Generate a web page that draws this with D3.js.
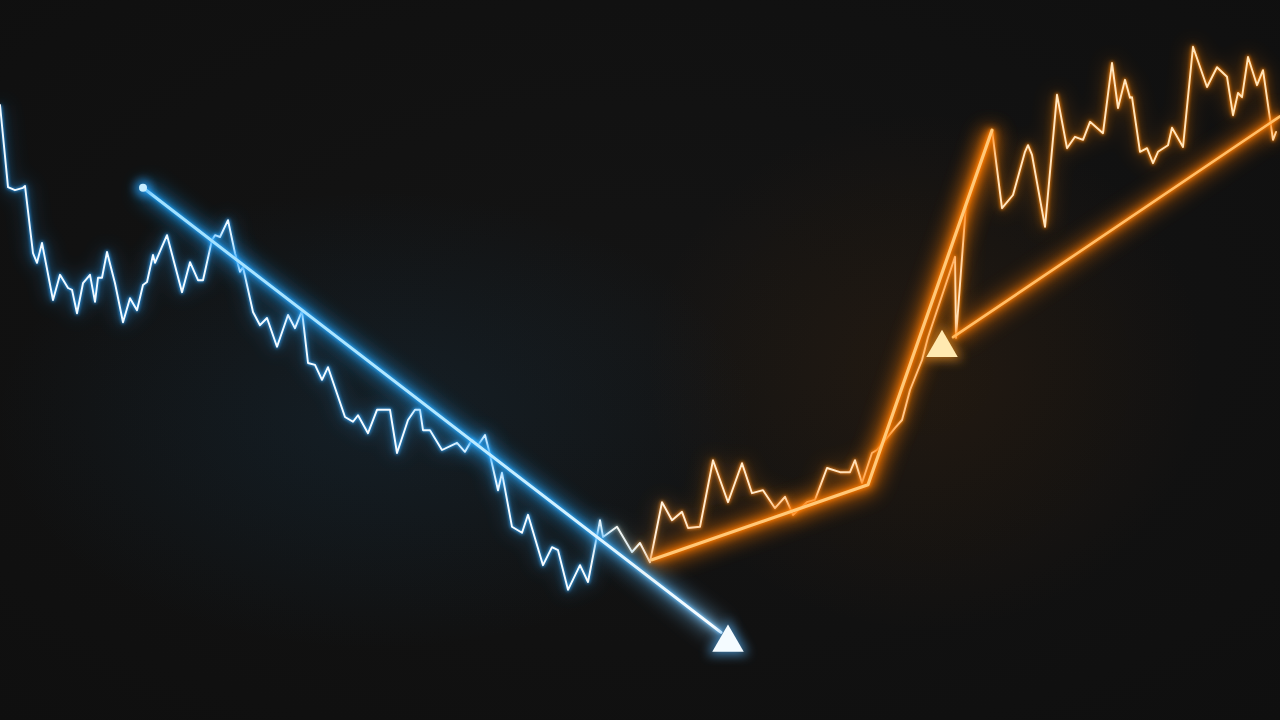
<!DOCTYPE html>
<html><head><meta charset="utf-8">
<script src="https://cdn.jsdelivr.net/npm/d3@7"></script>
<style>html,body{margin:0;padding:0;background:#121212;overflow:hidden}</style>
</head><body><svg id="chart" width="1280" height="720"></svg>
<script>
// ---- data (time units, price units) ----
const times = [0,1.6,3.0,4.6,5.0,6.6,7.4,8.4,10.6,12.0,13.6,14.4,15.4,16.6,18.0,19.0,19.6,20.4,21.4,23.0,24.6,26.0,27.4,28.6,29.4,30.6,31.0,33.4,36.4,38.0,39.6,40.6,42.4,43.0,44.0,45.6,47.0,48.0,48.6,50.6,52.0,53.4,55.4,57.6,59.0,60.4,61.6,63.0,64.4,65.6,69.0,70.6,71.6,73.6,75.4,78.0,79.4,81.6,83.0,84.0,84.6,86.0,88.4,91.4,93.0,94.4,95.6,97.0,98.0,99.6,100.4,102.4,104.4,105.6,108.6,110.4,111.6,113.6,116.0,117.6,120.0,120.6,123.4,126.4,128.0,130.0,
  132.4,134.4,136.4,137.6,140.0,142.6,145.6,148.4,150.4,152.6,155.0,157.0,158.6,161.4,163.0,165.4,168.0,170.0,171.0,172.4,174.4,175.4,179.0,180.4,182.0,184.4,185.6,191.0,191.2,193.2,198.4,
  200.4,202.6,205.0,205.6,206.4,209.0,211.4,213.4,215.0,216.6,218.0,220.6,222.4,223.6,225.0,226.0,226.4,228.0,229.4,230.6,231.6,233.6,234.4,236.6,238.6,241.4,243.4,245.4,246.6,247.6,248.4,249.6,251.4,252.6,254.6,255.2];
const prices = [102.5,88.8,88.3,88.7,89.0,77.8,76.2,79.5,70.0,74.2,72.0,71.7,67.8,72.8,74.2,69.7,73.7,73.7,78.0,72.8,66.3,70.3,68.3,72.5,73.0,77.5,76.2,80.8,71.3,76.3,73.3,73.3,80.0,80.8,80.5,83.3,77.8,74.7,75.5,68.0,65.8,67.0,62.2,67.5,65.3,68.2,59.5,59.2,56.7,58.8,50.5,49.7,50.8,47.8,51.7,51.7,44.5,50.0,51.7,51.7,48.3,48.3,45.0,46.2,44.7,46.7,45.8,47.5,44.2,38.3,41.2,32.2,31.2,34.2,25.8,28.8,28.3,21.7,25.8,23.0,33.3,30.5,32.2,28.0,29.5,26.3,
  36.3,33.3,34.7,32.0,32.2,43.3,36.3,42.8,37.8,38.3,35.3,37.2,34.2,36.3,36.7,42.0,41.3,41.3,43.3,39.5,44.5,45.0,48.7,50.0,55.0,60.0,63.8,77.2,63.7,86.0,98.3,
  85.3,87.5,94.7,95.8,94.2,82.2,104.2,95.3,97.2,96.7,99.7,97.8,109.5,102.0,106.7,103.7,103.8,94.7,95.3,92.8,94.7,95.8,98.7,95.5,112.2,105.5,108.8,107.2,100.8,104.5,103.8,110.5,105.8,108.3,96.7,98.0];

const downTrendT = [28.6, 144.2];
const downTrendP = [88.7, 14.6];
const upTrend1T = [130.4, 173.6, 198.4];
const upTrend1P = [26.7, 39.2, 98.3];
const upTrend2T = [190.6, 256];
const upTrend2P = [63.8, 100.6];
const markerT = [145.6, 188.4];
const markerP = [12.9, 62.0];
const startDotT = [28.6];
const startDotP = [88.7];

// ---- drawing ----
const W = 1280, H = 720;
const svg = d3.select("#chart");
const x = d3.scaleLinear().domain([0, 256]).range([0, W]);
const y = d3.scaleLinear().domain([0, 120]).range([H, 0]);
const defs = svg.append("defs");

// background
const bg = defs.append("radialGradient").attr("id","bgGrad").attr("cx","50%").attr("cy","45%").attr("r","75%");
bg.append("stop").attr("offset","0%").attr("stop-color","#141414");
bg.append("stop").attr("offset","100%").attr("stop-color","#0f0f0f");
svg.append("rect").attr("width",W).attr("height",H).attr("fill","url(#bgGrad)");

function radial(id, color, op){
  const g = defs.append("radialGradient").attr("id", id);
  g.append("stop").attr("offset","0%").attr("stop-color",color).attr("stop-opacity",op);
  g.append("stop").attr("offset","100%").attr("stop-color",color).attr("stop-opacity",0);
}
radial("blueAmb","#1f6fa8",0.13);
radial("orangeAmb","#a35000",0.11);
svg.append("ellipse").attr("cx",x(75)).attr("cy",y(50)).attr("rx",380).attr("ry",230).attr("fill","url(#blueAmb)");
svg.append("ellipse").attr("cx",x(185)).attr("cy",y(58)).attr("rx",280).attr("ry",260).attr("fill","url(#orangeAmb)");

function blurFilter(id, sd){
  defs.append("filter").attr("id",id).attr("filterUnits","userSpaceOnUse")
    .attr("x",-50).attr("y",-50).attr("width",W+100).attr("height",H+100)
    .append("feGaussianBlur").attr("stdDeviation",sd);
}
blurFilter("blurL",10);
blurFilter("blurM",4);
blurFilter("blurS",1.5);

function linGrad(id, stops){
  const g = defs.append("linearGradient").attr("id",id).attr("gradientUnits","userSpaceOnUse")
    .attr("x1",0).attr("y1",0).attr("x2",W).attr("y2",0);
  stops.forEach(s => g.append("stop").attr("offset",s[0]).attr("stop-color",s[1]));
}
linGrad("priceCore", [[0,"#f2faff"],[0.44,"#f8fcff"],[0.5,"#fff8ee"],[0.53,"#ffecd0"],[1,"#ffe2b6"]]);
linGrad("priceGlow", [[0,"#2aa4ff"],[0.46,"#3aaeff"],[0.5,"#c98a40"],[0.53,"#ff8a1a"],[1,"#ff8000"]]);
linGrad("downCore", [[0.11,"#9fe0ff"],[0.35,"#b5e8ff"],[0.5,"#e6f7ff"],[0.57,"#ffffff"]]);
linGrad("downGlow", [[0.11,"#1ea4ff"],[0.45,"#2aaaff"],[0.57,"#8fd0ff"]]);

const priceData = times.map((t,i)=>({t, p: prices[i]}));
const line = d3.line().x(d=>x(d.t)).y(d=>y(d.p));

function glowPath(data, core, glow, wCore, wGlow, opL, opM){
  const g = svg.append("g");
  g.append("path").attr("d",line(data)).attr("fill","none").attr("stroke",glow)
    .attr("stroke-width",wGlow*2.2).attr("stroke-linejoin","round").attr("opacity",opL).attr("filter","url(#blurL)");
  g.append("path").attr("d",line(data)).attr("fill","none").attr("stroke",glow)
    .attr("stroke-width",wGlow).attr("stroke-linejoin","round").attr("opacity",opM).attr("filter","url(#blurM)");
  g.append("path").attr("d",line(data)).attr("fill","none").attr("stroke",glow)
    .attr("stroke-width",wCore+1.5).attr("stroke-linejoin","round").attr("opacity",0.7).attr("filter","url(#blurS)");
  g.append("path").attr("d",line(data)).attr("fill","none").attr("stroke",core)
    .attr("stroke-width",wCore).attr("stroke-linejoin","round").attr("stroke-linecap","round");
}

// price series
glowPath(priceData, "url(#priceCore)", "url(#priceGlow)", 1.9, 3, 0.3, 0.5);

// trend lines
const down = downTrendT.map((t,i)=>({t,p:downTrendP[i]}));
const up1 = upTrend1T.map((t,i)=>({t,p:upTrend1P[i]}));
const up2 = upTrend2T.map((t,i)=>({t,p:upTrend2P[i]}));
glowPath(down, "url(#downCore)", "url(#downGlow)", 3, 6, 0.6, 0.8);
glowPath(up1, "#ffc878", "#ff7a00", 3.2, 7, 0.7, 0.9);
glowPath(up2, "#ffbe68", "#ff7a00", 2.6, 6, 0.6, 0.85);

// start dot
const dot = svg.append("g");
startDotT.forEach((t,i)=>{
  dot.append("circle").attr("cx",x(t)).attr("cy",y(startDotP[i])).attr("r",9).attr("fill","#2aa4ff").attr("opacity",0.6).attr("filter","url(#blurM)");
  dot.append("circle").attr("cx",x(t)).attr("cy",y(startDotP[i])).attr("r",4).attr("fill","#c8eeff");
});

// triangle markers
const tri = d3.symbol().type(d3.symbolTriangle).size(430);
const markerFill = ["#f4fbff","#ffe9b0"];
const markerGlow = ["#5ab8ff","#ff9a20"];
markerT.forEach((t,i)=>{
  const g = svg.append("g").attr("transform",`translate(${x(t)},${y(markerP[i])})`);
  g.append("path").attr("d",tri()).attr("fill",markerGlow[i]).attr("opacity",0.7).attr("filter","url(#blurM)").attr("transform","scale(1.3)");
  g.append("path").attr("d",tri()).attr("fill",markerFill[i]);
});
</script></body></html>
